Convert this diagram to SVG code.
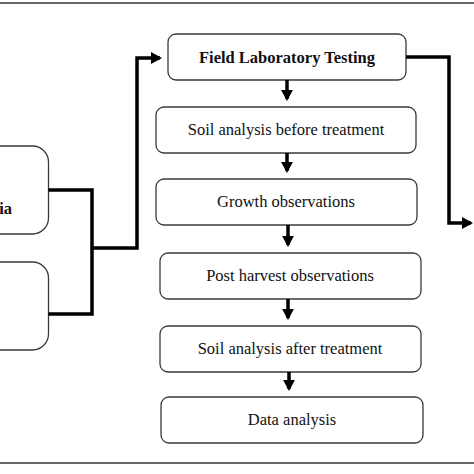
<svg xmlns="http://www.w3.org/2000/svg" width="474" height="474" viewBox="0 0 474 474">
<style>
.box{fill:#fff;stroke:#3a3a3a;stroke-width:1.3}
.t{font-family:"Liberation Serif","Times New Roman",serif;font-size:16.5px;fill:#111;text-anchor:middle}
.b{font-weight:bold}
.c{fill:none;stroke:#000;stroke-width:3.5}
.frame{stroke:#666;stroke-width:2}
</style>
<defs>
<marker id="ah" markerWidth="3.2" markerHeight="3.4" refX="2.6" refY="1.7" orient="auto" markerUnits="strokeWidth">
<path d="M0,0 L3.2,1.7 L0,3.4 z" fill="#000"/>
</marker>
</defs>
<rect width="474" height="474" fill="#fff"/>
<line class="frame" x1="0" y1="3" x2="474" y2="3"/>
<line class="frame" x1="0" y1="463" x2="474" y2="463"/>
<g id="left1"><rect class="box" x="-30" y="146" width="78.5" height="88" rx="16"/><text class="t b" x="12" y="214" style="text-anchor:end">ia</text></g>
<g id="left2"><rect class="box" x="-30" y="262" width="78.5" height="88" rx="16"/></g>
<g id="flt"><rect class="box" x="168" y="34" width="238" height="46" rx="8"/><text class="t b" x="287" y="63">Field Laboratory Testing</text></g>
<g id="soil1"><rect class="box" x="156" y="107" width="260" height="46" rx="8"/><text class="t" x="286" y="135">Soil analysis before treatment</text></g>
<g id="growth"><rect class="box" x="156" y="179" width="261" height="46" rx="8"/><text class="t" x="286" y="207">Growth observations</text></g>
<g id="post"><rect class="box" x="160" y="253" width="261" height="46" rx="8"/><text class="t" x="290" y="281">Post harvest observations</text></g>
<g id="soil2"><rect class="box" x="160" y="326" width="261" height="46" rx="8"/><text class="t" x="290" y="354">Soil analysis after treatment</text></g>
<g id="data"><rect class="box" x="161" y="397" width="262" height="46" rx="8"/><text class="t" x="292" y="425">Data analysis</text></g>
<g id="connectors">
<polyline class="c" points="48.5,190 92,190 92,314 48.5,314"/>
<polyline class="c" points="92,248 137,248 137,58 160,58" marker-end="url(#ah)"/>
<polyline class="c" points="406,57 449,57 449,223 471,223" marker-end="url(#ah)"/>
<line class="c" x1="287" y1="80" x2="287" y2="99" marker-end="url(#ah)"/>
<line class="c" x1="287" y1="153" x2="287" y2="171" marker-end="url(#ah)"/>
<line class="c" x1="288" y1="225" x2="288" y2="245" marker-end="url(#ah)"/>
<line class="c" x1="288" y1="299" x2="288" y2="318" marker-end="url(#ah)"/>
<line class="c" x1="289" y1="372" x2="289" y2="389" marker-end="url(#ah)"/>
</g>
</svg>
